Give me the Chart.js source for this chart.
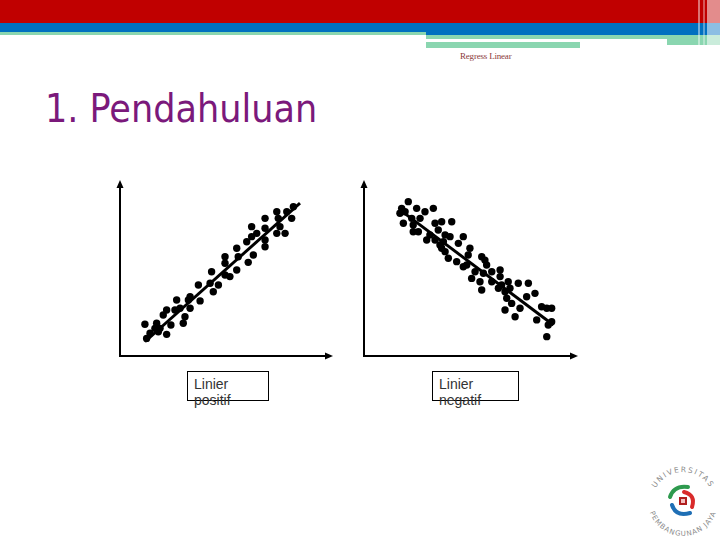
<!DOCTYPE html>
<html>
<head>
<meta charset="utf-8">
<script src="https://cdn.jsdelivr.net/npm/chart.js@4/dist/chart.umd.min.js"></script>
<style>
  html, body { margin: 0; padding: 0; background: #fff; }
  #slide { position: relative; width: 720px; height: 540px; overflow: hidden; background: #fff; }
  .band { position: absolute; }
  .judul {
    position: absolute; left: 45px; top: 89px; line-height: 39px; font-size: 39px;
    font-family: "DejaVu Sans Condensed", "DejaVu Sans", sans-serif; font-stretch: condensed;
    color: #7b197b; white-space: nowrap;
  }
  .header-kecil {
    position: absolute; left: 460px; top: 51px; font-family: "Liberation Serif", serif;
    font-size: 9px; line-height: 10px; color: #8b3a3a; letter-spacing: -0.2px;
  }
  .wadah { position: absolute; width: 250px; height: 200px; }
  .kotak { position: absolute; border: 1px solid #000; box-sizing: border-box; }
  .label {
    position: absolute; font-family: "Liberation Sans", Arial, sans-serif; font-size: 14px;
    line-height: 16px; color: #333; white-space: nowrap;
  }
  #logo { position: absolute; left: 638px; top: 457px; }
</style>
</head>
<body>
<div id="slide">
  <!-- pita atas -->
  <div class="band" style="left:0;top:0;width:720px;height:23px;background:#c00000"></div>
  <div class="band" style="left:0;top:23px;width:720px;height:9px;background:#0070c0"></div>
  <div class="band" style="left:0;top:32px;width:426px;height:3px;background:#8ad6b0"></div>
  <div class="band" style="left:426px;top:32px;width:294px;height:3px;background:#0070c0"></div>
  <div class="band" style="left:426px;top:35px;width:294px;height:4px;background:#8ad6b0"></div>
  <div class="band" style="left:667px;top:39px;width:53px;height:6px;background:#8ad6b0"></div>
  <div class="band" style="left:426px;top:42px;width:154px;height:6px;background:#8ad6b0"></div>
  <div class="band" style="left:698px;top:0;width:2px;height:46px;background:rgba(255,255,255,0.45)"></div>
  <div class="band" style="left:703px;top:0;width:2px;height:46px;background:rgba(255,255,255,0.35)"></div>
  <div class="band" style="left:707px;top:0;width:13px;height:46px;background:rgba(255,255,255,0.55)"></div>

  <div class="header-kecil">Regress Linear</div>
  <div class="judul">1. Pendahuluan</div>

  <div class="wadah" style="left:100px;top:170px"><canvas id="grafikPositif"></canvas></div>
  <div class="wadah" style="left:344px;top:170px"><canvas id="grafikNegatif"></canvas></div>

  <div class="kotak" style="left:187px;top:371px;width:82px;height:30px"></div>
  <div class="label" style="left:194px;top:376px">Linier<br>positif</div>
  <div class="kotak" style="left:432px;top:371px;width:87px;height:30px"></div>
  <div class="label" style="left:439px;top:376px">Linier<br>negatif</div>

  <svg id="logo" width="90" height="90" viewBox="0 0 90 90">
    <defs>
      <path id="atas" d="M 14 46 A 31 31 0 0 1 76 46"/>
      <path id="bawah" d="M 10 44 A 35 35 0 0 0 80 44"/>
    </defs>
    <text font-family="DejaVu Sans, sans-serif" font-size="7.5" fill="#8a8a8a" letter-spacing="1.6">
      <textPath href="#atas" startOffset="50%" text-anchor="middle">UNIVERSITAS</textPath>
    </text>
    <text font-family="DejaVu Sans, sans-serif" font-size="7" fill="#8a8a8a" letter-spacing="0.9">
      <textPath href="#bawah" startOffset="50%" text-anchor="middle">PEMBANGUNAN JAYA</textPath>
    </text>
    <path d="M 32 40 Q 36 28 50 30" stroke="#2e9a4e" stroke-width="4" fill="none" stroke-linecap="round"/>
    <path d="M 34 48 Q 38 60 52 56" stroke="#1f6fb5" stroke-width="4" fill="none" stroke-linecap="round"/>
    <path d="M 46 35 Q 58 38 54 50" stroke="#d92b2b" stroke-width="4" fill="none" stroke-linecap="round"/>
    <rect x="41" y="40" width="8" height="8" fill="#b01e1e"/>
    <rect x="43" y="42" width="4" height="4" fill="#f3c0c0"/>
  </svg>
</div>

<script>
// Sebaran linier positif (skala 0-100 pada kedua sumbu)
const positifX = [11.7, 12.5, 14.1, 17.2, 18.0, 18.8, 21.9, 20.3, 21.9, 23.9, 26.6, 28.2, 29.7, 30.5, 32.1, 32.9,
  37.6, 36.8, 43.0, 43.8, 46.2, 49.3, 49.3, 49.3, 51.6, 54.8, 54.8, 55.5, 59.5, 60.2, 61.8, 62.6, 64.2, 61.8,
  68.1, 68.1, 68.1, 68.1, 73.6, 74.3, 73.6, 77.5, 78.3, 80.6, 81.4, 75.1, 25.8, 32.9, 16.4, 42.3];
const positifY = [18.0, 10.0, 12.9, 18.6, 13.8, 15.7, 12.3, 23.3, 26.1, 17.6, 31.8, 27.1, 18.6, 22.3, 31.8, 27.1,
  31.3, 40.3, 47.9, 36.5, 40.3, 56.4, 52.7, 46.0, 45.1, 61.2, 48.9, 56.4, 64.9, 53.2, 73.5, 57.4, 69.7, 67.8,
  78.2, 72.6, 62.1, 65.9, 82.0, 78.2, 69.7, 69.7, 82.0, 78.2, 84.8, 73.5, 26.1, 33.7, 15.7, 41.3];
const garisPositifX = [11.7, 84.5];
const garisPositifY = [8.1, 86.8];

// Sebaran linier negatif
const negatifX = [20.7, 17.6, 16.8, 19.2, 18.4, 24.6, 28.5, 32.4, 22.3, 26.2, 23.0, 25.4, 29.3, 33.2, 36.3, 41.0,
  34.7, 37.9, 40.2, 33.2, 36.3, 37.9, 35.5, 39.4, 44.1, 46.4, 49.5, 43.3, 46.4, 48.7, 48.0, 51.9, 50.3, 55.0,
  56.5, 57.3, 55.8, 55.0, 54.2, 59.7, 59.7, 63.6, 63.6, 64.3, 62.8, 65.9, 67.4, 66.7, 69.0, 65.9, 72.1, 72.9,
  76.8, 76.0, 79.9, 70.6, 80.7, 83.0, 85.4, 87.7, 86.1, 85.4, 87.7, 68.2, 30.8, 23.0, 37.1];
const negatifY = [87.7, 83.9, 81.1, 82.0, 75.4, 83.9, 82.0, 83.9, 78.2, 78.2, 70.6, 70.6, 65.9, 75.4, 76.3, 76.3,
  71.6, 68.8, 67.8, 65.9, 61.2, 59.3, 63.1, 55.5, 64.0, 67.8, 61.2, 53.6, 50.7, 57.4, 51.7, 47.9, 44.1, 56.4,
  54.5, 51.7, 47.0, 37.5, 42.2, 47.9, 42.2, 48.9, 45.1, 40.3, 38.5, 36.5, 42.2, 32.8, 29.9, 26.1, 41.3, 27.1,
  41.3, 33.7, 35.6, 22.3, 20.5, 28.0, 27.1, 27.1, 17.6, 11.0, 19.5, 38.5, 68.8, 74.4, 64.9];
const garisNegatifX = [16.8, 88.5];
const garisNegatifY = [83.0, 17.6];

// Sumbu dengan panah, digambar dari chartArea
const sumbuPanah = {
  id: 'sumbuPanah',
  beforeDatasetsDraw(chart) {
    const { ctx, chartArea: { left, top, right, bottom } } = chart;
    ctx.save();
    ctx.strokeStyle = '#000';
    ctx.fillStyle = '#000';
    ctx.lineWidth = 2;
    ctx.beginPath();
    ctx.moveTo(left, top + 6);
    ctx.lineTo(left, bottom);
    ctx.lineTo(right - 6, bottom);
    ctx.stroke();
    ctx.beginPath();
    ctx.moveTo(left, top);
    ctx.lineTo(left - 3.5, top + 8);
    ctx.lineTo(left + 3.5, top + 8);
    ctx.closePath();
    ctx.fill();
    ctx.beginPath();
    ctx.moveTo(right, bottom);
    ctx.lineTo(right - 8, bottom - 3.5);
    ctx.lineTo(right - 8, bottom + 3.5);
    ctx.closePath();
    ctx.fill();
    ctx.restore();
  }
};

function buatGrafik(idCanvas, xs, ys, garisX, garisY, padding) {
  const titik = xs.map((x, i) => ({ x: x, y: ys[i] }));
  const garis = garisX.map((x, i) => ({ x: x, y: garisY[i] }));
  return new Chart(document.getElementById(idCanvas), {
    type: 'scatter',
    data: {
      datasets: [
        {
          data: titik,
          backgroundColor: '#000',
          borderWidth: 0,
          pointRadius: 3.7,
          clip: false
        },
        {
          data: garis,
          showLine: true,
          borderColor: '#000',
          borderWidth: 3,
          pointRadius: 0,
          clip: false
        }
      ]
    },
    options: {
      responsive: true,
      maintainAspectRatio: false,
      animation: false,
      layout: { padding: padding },
      plugins: { legend: { display: false }, tooltip: { enabled: false } },
      scales: {
        x: { type: 'linear', min: 0, max: 100, display: false },
        y: { type: 'linear', min: 0, max: 100, display: false }
      }
    },
    plugins: [sumbuPanah]
  });
}

buatGrafik('grafikPositif', positifX, positifY, garisPositifX, garisPositifY,
  { left: 20, top: 10, right: 17, bottom: 14 });
buatGrafik('grafikNegatif', negatifX, negatifY, garisNegatifX, garisNegatifY,
  { left: 20, top: 10, right: 16, bottom: 14 });
</script>
</body>
</html>
